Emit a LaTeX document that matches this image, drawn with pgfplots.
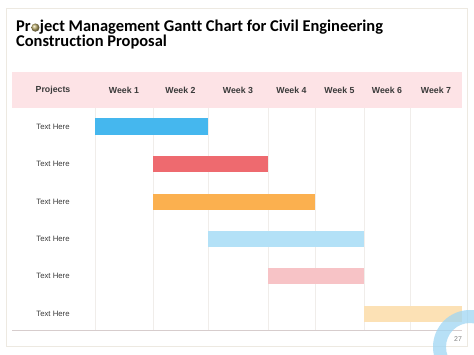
\documentclass[border=0pt]{standalone}
\usepackage{pgfplots}
\pgfplotsset{compat=1.18}
\usepackage{fontspec}
\setmainfont{Liberation Sans}
\newfontfamily\titlefont[Ligatures=CommonOff]{Carlito}
\definecolor{hdr}{HTML}{FDE3E6}
\definecolor{frm}{HTML}{EDE9E1}
\definecolor{grd}{HTML}{F0EDEA}
\definecolor{cA}{HTML}{45B7EE}
\definecolor{cB}{HTML}{EE6A6F}
\definecolor{cC}{HTML}{FBB04F}
\definecolor{cD}{HTML}{B3E1F7}
\definecolor{cE}{HTML}{F7C3C6}
\definecolor{cF}{HTML}{FCE1B5}
\definecolor{arcc}{HTML}{9FD6F3}
\definecolor{txt}{HTML}{3A3A3A}
\definecolor{bline}{HTML}{D7CDCD}
\definecolor{ballc}{HTML}{B9AA69}
\newcommand{\ball}{\tikz[baseline=0pt]{\path (0,0) rectangle (0.56em,0.1em);\shade[ball color=ballc] (0.28em,0.25em) circle (0.25em);}}
\begin{document}
\begin{tikzpicture}
\begin{axis}[
  width=474bp, height=355bp, scale only axis,
  xmin=0, xmax=474, ymin=0, ymax=355, y dir=reverse,
  hide axis, clip=true,
]
% frame
\draw[frm, line width=0.8bp] (axis cs:6,8.5) rectangle (axis cs:467,346);
% header band
\fill[hdr] (axis cs:12,72) rectangle (axis cs:462,108);
% grid lines
\foreach \x in {95,153,208,268,315,364,410} {
  \edef\tmp{\noexpand\draw[grd, line width=0.6bp] (axis cs:\x,108) -- (axis cs:\x,330);}\tmp
}
% bars: rectangles in week-boundary pixel units
\addplot[fill=cA, draw=none] coordinates {(95,118.3) (208,118.3) (208,135) (95,135)} -- cycle;
\addplot[fill=cB, draw=none] coordinates {(153,155.8) (268,155.8) (268,172.3) (153,172.3)} -- cycle;
\addplot[fill=cC, draw=none] coordinates {(153,193.8) (315,193.8) (315,210.3) (153,210.3)} -- cycle;
\addplot[fill=cD, draw=none] coordinates {(208,230.8) (364,230.8) (364,247.3) (208,247.3)} -- cycle;
\addplot[fill=cE, draw=none] coordinates {(268,268) (364,268) (364,284.3) (268,284.3)} -- cycle;
\addplot[fill=cF, draw=none] coordinates {(364,305.5) (462,305.5) (462,321.8) (364,321.8)} -- cycle;
% bottom line
\draw[bline, line width=0.8bp] (axis cs:12,330) -- (axis cs:462,330);
% arc decoration
\fill[arcc, opacity=0.75, even odd rule, overlay] (axis cs:470,347) circle[radius=37bp] (axis cs:470,347) circle[radius=24bp];
\node[text=gray, font=\fontsize{7}{8}\selectfont] at (axis cs:458,339) {27};
% title
\node[anchor=base west, inner sep=0pt, font=\titlefont\bfseries\fontsize{16.5}{18}\selectfont, text=black] at (axis cs:16,31.7) {Pr\ball ject Management Gantt Chart for Civil Engineering};
\node[anchor=base west, inner sep=0pt, font=\titlefont\bfseries\fontsize{16.5}{18}\selectfont, text=black] at (axis cs:16,46.7) {Construction Proposal};
% header labels
\foreach \x/\t in {53/Projects,124/Week 1,180.5/Week 2,238/Week 3,291.5/Week 4,339.5/Week 5,387/Week 6,436/Week 7} {
  \edef\tmp{\noexpand\node[font=\noexpand\bfseries\noexpand\fontsize{8.8}{10}\noexpand\selectfont, text=txt, inner sep=0pt] at (axis cs:\x,90) {\t};}\tmp
}
% row labels
\foreach \y in {126.7,164,202,239,276,313.7} {
  \edef\tmp{\noexpand\node[font=\noexpand\fontsize{7.8}{9}\noexpand\selectfont, text=txt, inner sep=0pt] at (axis cs:53,\y) {Text Here};}\tmp
}
\end{axis}
\pgfresetboundingbox
\path (current axis.south west) rectangle (current axis.north east);
\end{tikzpicture}
\end{document}
